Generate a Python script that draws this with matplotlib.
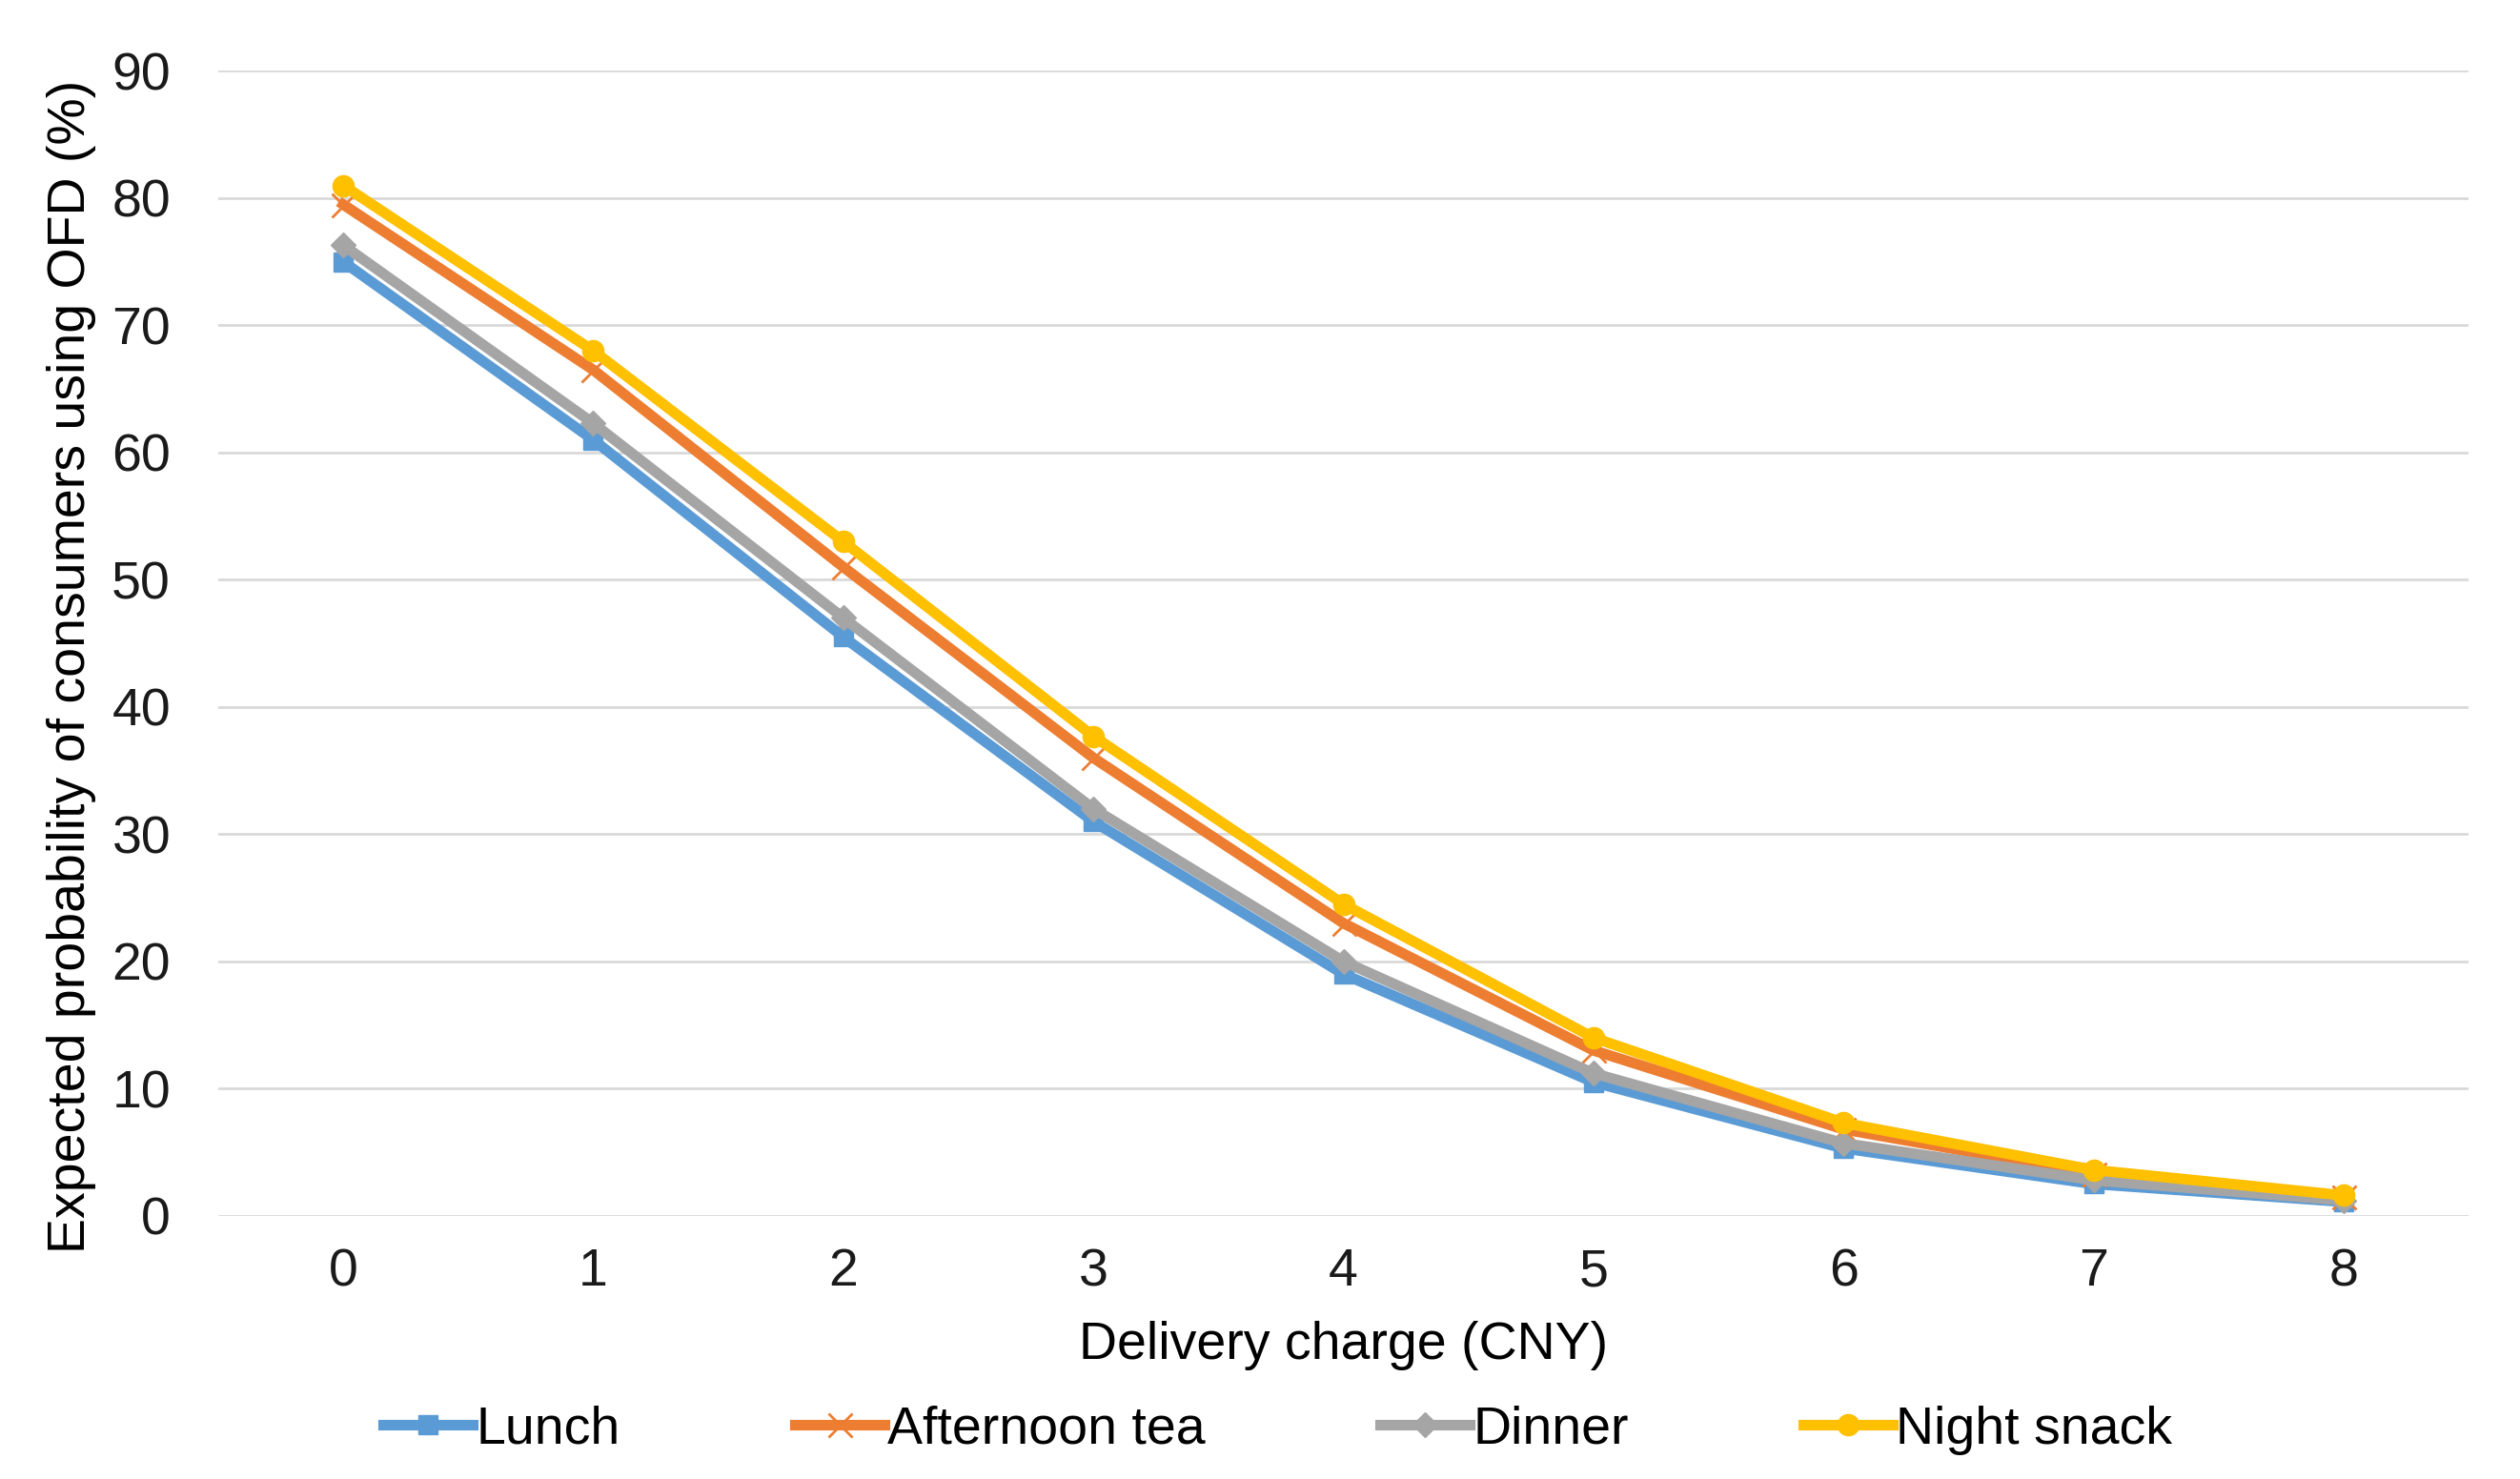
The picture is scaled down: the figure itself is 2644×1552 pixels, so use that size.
import matplotlib.pyplot as plt

# delivery charge (CNY)
charge = [0, 1, 2, 3, 4, 5, 6, 7, 8]

# expected probability of using OFD (%) per meal
lunch = [75.0, 61.0, 45.5, 31.0, 19.0, 10.5, 5.3, 2.5, 1.1]
afternoon_tea = [79.5, 66.5, 51.0, 36.0, 23.0, 13.0, 6.8, 3.3, 1.5]
dinner = [76.3, 62.3, 47.0, 32.0, 20.0, 11.2, 5.7, 2.8, 1.2]
night_snack = [81.0, 68.0, 53.0, 37.7, 24.5, 14.0, 7.3, 3.6, 1.6]

plt.rcParams['font.family'] = ['Liberation Sans', 'DejaVu Sans']

fig = plt.figure(figsize=(26.44, 15.52), dpi=100)
ax = fig.add_axes([0.0866, 0.178, 0.893, 0.774])

lw = 8
ax.plot(charge, lunch, color='#5B9BD5', lw=lw, marker='s', ms=15, label='Lunch', zorder=3)
ax.plot(charge, afternoon_tea, color='#ED7D31', lw=lw, marker='x', ms=18, mew=2,
        label='Afternoon tea', zorder=4)
ax.plot(charge, dinner, color='#A5A5A5', lw=lw, marker='D', ms=13, label='Dinner', zorder=5)
ax.plot(charge, night_snack, color='#FFC000', lw=lw, marker='o', ms=16, label='Night snack', zorder=6)

ax.set_xlim(-0.5, 8.5)
ax.set_ylim(0, 90)
ax.set_xticks(charge)
ax.set_yticks(range(0, 91, 10))
ax.grid(axis='y', color='#D9D9D9', lw=2)
ax.set_axisbelow(True)
for s in ax.spines.values():
    s.set_visible(False)
ax.tick_params(length=0, labelsize=40, colors='#1a1a1a')
ax.tick_params(axis='y', pad=36)
ax.tick_params(axis='x', pad=24)

ax.set_xlabel('Delivery charge (CNY)', fontsize=40, labelpad=18)
ax.set_ylabel('Expected probability of consumers using OFD (%)', fontsize=40)
ax.yaxis.set_label_coords(-0.054, 0.48)

fig.legend(loc='center', bbox_to_anchor=(0.507, 0.033), ncol=4, frameon=False,
           fontsize=40, handlelength=1.7, handletextpad=0.05, columnspacing=3.3)

plt.savefig('out.png', dpi=100)
